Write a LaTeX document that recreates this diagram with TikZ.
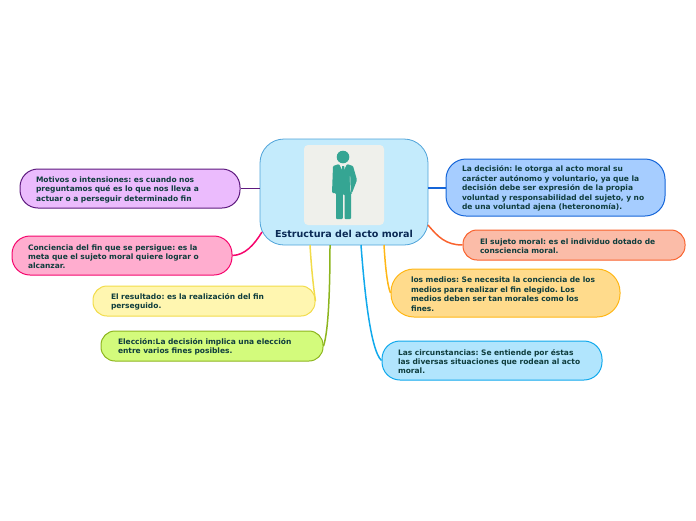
\documentclass[tikz,border=0pt]{standalone}
\usepackage{fontspec}
\setmainfont{DejaVu Sans}
\frenchspacing
\definecolor{maincol}{HTML}{C4EBFC}
\definecolor{mainedge}{HTML}{4FA3D9}
\definecolor{maintext}{HTML}{0B2A55}
\definecolor{boxtext}{HTML}{0F3D3D}
\definecolor{figcol}{HTML}{35A593}
\definecolor{figback}{HTML}{EFF0EB}
\definecolor{purplecol}{HTML}{EBBBFD}
\definecolor{purpleedge}{HTML}{5E1A7F}
\definecolor{pinkcol}{HTML}{FFADCF}
\definecolor{pinkedge}{HTML}{F5066D}
\definecolor{yellowcol}{HTML}{FFF6B0}
\definecolor{yellowedge}{HTML}{F2DC4A}
\definecolor{greencol}{HTML}{D3FB7C}
\definecolor{greenedge}{HTML}{8DB51E}
\definecolor{bluecol}{HTML}{A6CDFF}
\definecolor{blueedge}{HTML}{1565D8}
\definecolor{salmoncol}{HTML}{FBBCA8}
\definecolor{salmonedge}{HTML}{F9622D}
\definecolor{orangecol}{HTML}{FFDB8C}
\definecolor{orangeedge}{HTML}{FFB716}
\definecolor{skycol}{HTML}{B1E5FD}
\definecolor{skyedge}{HTML}{10A9EC}
\tikzset{
	topic/.style={fill=#1col, draw=#1edge, line width=1pt, align=left, inner sep=0pt, font=\fontsize{7.5}{9.4}\selectfont\bfseries, text=boxtext, rounded corners=18pt, execute at begin node={\rule{0pt}{8pt}}},
	link/.style={draw=#1edge, line width=1.5pt}
}
\begin{document}
\begin{tikzpicture}[x=1pt,y=-1pt]
	\useasboundingbox (0,0) rectangle (696,520);

	\node[draw=mainedge, fill=maincol, line width=0.8pt, rounded corners=24pt, minimum width=168pt, minimum height=106pt] (main) at (344,192) {};
	\node[fill=figback, rounded corners=4pt, minimum width=80pt, minimum height=80pt] (pic) at (344,185) {};
	\node[font=\fontsize{9.6}{10}\selectfont\bfseries, text=maintext] (title) at (344,233.5) {Estructura del acto moral};

	% the man
	\fill[figcol] (343,157) circle (6.3);
	\fill[figcol, rounded corners=1pt] (339,164) -- (333,166) -- (332,193) -- (336,193) -- (336,219) -- (342.8,219) -- (342.8,194) -- (344.5,194) -- (344.5,219) -- (351,219) -- (351,193) -- (352,193) -- (357,180) -- (353,166) -- (347,164) -- (343,172) -- cycle;
	\fill[figback] (340.8,164.5) -- (345.6,164.5) -- (343.2,170) -- cycle;
	\fill[figcol] (342.2,166) -- (344.2,166) -- (344.8,176) -- (343.2,179) -- (341.6,176) -- cycle;
	\draw[figback, line width=0.4pt] (350,176) -- (350.5,192);

	% left side
	\node[topic=purple, minimum width=220pt, minimum height=39pt, text width=188pt] (motivos) at (130,188.5) {Motivos o intensiones: es cuando nos\\preguntamos qué es lo que nos lleva a\\actuar o a perseguir determinado fin};
	\node[topic=pink, minimum width=220pt, minimum height=39pt, text width=188pt] (conciencia) at (122,255.5) {Conciencia del fin que se persigue: es la\\meta que el sujeto moral quiere lograr o\\alcanzar.};
	\node[topic=yellow, rounded corners=14pt, minimum width=222pt, minimum height=30pt, text width=186pt] (resultado) at (204,301) {El resultado: es la realización del fin\\perseguido.};
	\node[topic=green, rounded corners=14pt, minimum width=222pt, minimum height=30pt, text width=188pt] (eleccion) at (212,346) {Elección:La decisión implica una elección\\entre varios fines posibles.};

	% right side
	\node[topic=blue, rounded corners=20pt, minimum width=219pt, minimum height=57pt, text width=187pt] (decision) at (555.5,187.5) {La decisión: le otorga al acto moral su\\carácter autónomo y voluntario, ya que la\\decisión debe ser expresión de la propia\\voluntad y responsabilidad del sujeto, y no\\de una voluntad ajena (heteronomía).};
	\node[topic=salmon, rounded corners=14pt, minimum width=222pt, minimum height=30pt, text width=188pt] (sujeto) at (574,245) {El sujeto moral: es el individuo dotado de\\consciencia moral.};
	\node[topic=orange, rounded corners=23pt, minimum width=229pt, minimum height=48pt, text width=189pt] (medios) at (505.5,293) {los medios: Se necesita la conciencia de los\\medios para realizar el fin elegido. Los\\medios deben ser tan morales como los\\fines.};
	\node[topic=sky, minimum width=220pt, minimum height=39pt, text width=188pt] (circunstancias) at (492,360.5) {Las circunstancias: Se entiende por éstas\\las diversas situaciones que rodean al acto\\moral.};

	% connectors
	\draw[link=purple] (main.west |- motivos.east) -- (motivos.east);
	\draw[link=blue, line width=2pt] (main.east |- decision.west) -- (decision.west);
	\draw[link=pink] (conciencia.east) .. controls (245,255) and (254,245) .. (262,232);
	\draw[link=salmon] (sujeto.west) .. controls (446,245) and (438,237) .. (428,225);
	\draw[link=yellow] (resultado.east) .. controls (313,285) and (311,262) .. (310,245);
	\draw[link=green] (eleccion.east) .. controls (329,330) and (330,280) .. (330,245);
	\draw[link=orange] (medios.west) .. controls (387,285) and (385,262) .. (384,245);
	\draw[link=sky] (circunstancias.west) .. controls (370,350) and (364,285) .. (361,245);
\end{tikzpicture}
\end{document}
